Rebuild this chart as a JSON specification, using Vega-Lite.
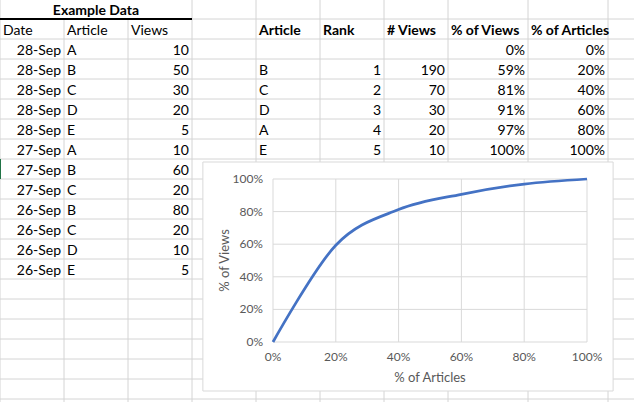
{
  "$schema": "https://vega.github.io/schema/vega-lite/v6.json",
  "width": 634,
  "height": 402,
  "autosize": "none",
  "padding": 0,
  "config": {"view": {"stroke": null}, "font": "Lato"},
  "datasets": {
    "cells": [
      {"row": 2, "col": 1, "value": "Date", "kind": "text"},
      {"row": 2, "col": 2, "value": "Article", "kind": "text"},
      {"row": 2, "col": 3, "value": "Views", "kind": "text"},
      {"row": 2, "col": 5, "value": "Article", "kind": "header"},
      {"row": 2, "col": 6, "value": "Rank", "kind": "header"},
      {"row": 2, "col": 7, "value": "# Views", "kind": "header"},
      {"row": 2, "col": 8, "value": "% of Views", "kind": "header"},
      {"row": 2, "col": 9, "value": "% of Articles", "kind": "header"},
      {"row": 3, "col": 1, "value": "28-Sep", "kind": "number"},
      {"row": 3, "col": 2, "value": "A", "kind": "text"},
      {"row": 3, "col": 3, "value": "10", "kind": "number"},
      {"row": 4, "col": 1, "value": "28-Sep", "kind": "number"},
      {"row": 4, "col": 2, "value": "B", "kind": "text"},
      {"row": 4, "col": 3, "value": "50", "kind": "number"},
      {"row": 5, "col": 1, "value": "28-Sep", "kind": "number"},
      {"row": 5, "col": 2, "value": "C", "kind": "text"},
      {"row": 5, "col": 3, "value": "30", "kind": "number"},
      {"row": 6, "col": 1, "value": "28-Sep", "kind": "number"},
      {"row": 6, "col": 2, "value": "D", "kind": "text"},
      {"row": 6, "col": 3, "value": "20", "kind": "number"},
      {"row": 7, "col": 1, "value": "28-Sep", "kind": "number"},
      {"row": 7, "col": 2, "value": "E", "kind": "text"},
      {"row": 7, "col": 3, "value": "5", "kind": "number"},
      {"row": 8, "col": 1, "value": "27-Sep", "kind": "number"},
      {"row": 8, "col": 2, "value": "A", "kind": "text"},
      {"row": 8, "col": 3, "value": "10", "kind": "number"},
      {"row": 9, "col": 1, "value": "27-Sep", "kind": "number"},
      {"row": 9, "col": 2, "value": "B", "kind": "text"},
      {"row": 9, "col": 3, "value": "60", "kind": "number"},
      {"row": 10, "col": 1, "value": "27-Sep", "kind": "number"},
      {"row": 10, "col": 2, "value": "C", "kind": "text"},
      {"row": 10, "col": 3, "value": "20", "kind": "number"},
      {"row": 11, "col": 1, "value": "26-Sep", "kind": "number"},
      {"row": 11, "col": 2, "value": "B", "kind": "text"},
      {"row": 11, "col": 3, "value": "80", "kind": "number"},
      {"row": 12, "col": 1, "value": "26-Sep", "kind": "number"},
      {"row": 12, "col": 2, "value": "C", "kind": "text"},
      {"row": 12, "col": 3, "value": "20", "kind": "number"},
      {"row": 13, "col": 1, "value": "26-Sep", "kind": "number"},
      {"row": 13, "col": 2, "value": "D", "kind": "text"},
      {"row": 13, "col": 3, "value": "10", "kind": "number"},
      {"row": 14, "col": 1, "value": "26-Sep", "kind": "number"},
      {"row": 14, "col": 2, "value": "E", "kind": "text"},
      {"row": 14, "col": 3, "value": "5", "kind": "number"},
      {"row": 3, "col": 8, "value": "0%", "kind": "number"},
      {"row": 3, "col": 9, "value": "0%", "kind": "number"},
      {"row": 4, "col": 5, "value": "B", "kind": "text"},
      {"row": 4, "col": 6, "value": "1", "kind": "number"},
      {"row": 4, "col": 7, "value": "190", "kind": "number"},
      {"row": 4, "col": 8, "value": "59%", "kind": "number"},
      {"row": 4, "col": 9, "value": "20%", "kind": "number"},
      {"row": 5, "col": 5, "value": "C", "kind": "text"},
      {"row": 5, "col": 6, "value": "2", "kind": "number"},
      {"row": 5, "col": 7, "value": "70", "kind": "number"},
      {"row": 5, "col": 8, "value": "81%", "kind": "number"},
      {"row": 5, "col": 9, "value": "40%", "kind": "number"},
      {"row": 6, "col": 5, "value": "D", "kind": "text"},
      {"row": 6, "col": 6, "value": "3", "kind": "number"},
      {"row": 6, "col": 7, "value": "30", "kind": "number"},
      {"row": 6, "col": 8, "value": "91%", "kind": "number"},
      {"row": 6, "col": 9, "value": "60%", "kind": "number"},
      {"row": 7, "col": 5, "value": "A", "kind": "text"},
      {"row": 7, "col": 6, "value": "4", "kind": "number"},
      {"row": 7, "col": 7, "value": "20", "kind": "number"},
      {"row": 7, "col": 8, "value": "97%", "kind": "number"},
      {"row": 7, "col": 9, "value": "80%", "kind": "number"},
      {"row": 8, "col": 5, "value": "E", "kind": "text"},
      {"row": 8, "col": 6, "value": "5", "kind": "number"},
      {"row": 8, "col": 7, "value": "10", "kind": "number"},
      {"row": 8, "col": 8, "value": "100%", "kind": "number"},
      {"row": 8, "col": 9, "value": "100%", "kind": "number"}
    ],
    "gridCols": [
      {"col": 0}, {"col": 1}, {"col": 2}, {"col": 3}, {"col": 4},
      {"col": 5}, {"col": 6}, {"col": 7}, {"col": 8}, {"col": 9}
    ],
    "gridRows": [
      {"row": 1}, {"row": 2}, {"row": 3}, {"row": 4}, {"row": 5},
      {"row": 6}, {"row": 7}, {"row": 8}, {"row": 9}, {"row": 10},
      {"row": 11}, {"row": 12}, {"row": 13}, {"row": 14}, {"row": 15},
      {"row": 16}, {"row": 17}, {"row": 18}, {"row": 19}, {"row": 20}
    ],
    "pareto": [
      {"articles": 0, "views": 0},
      {"articles": 0.2, "views": 0.59375},
      {"articles": 0.4, "views": 0.8125},
      {"articles": 0.6, "views": 0.90625},
      {"articles": 0.8, "views": 0.96875},
      {"articles": 1, "views": 1}
    ],
    "ticks": [
      {"v": 0}, {"v": 0.2}, {"v": 0.4}, {"v": 0.6}, {"v": 0.8}, {"v": 1}
    ],
    "one": [{}]
  },
  "layer": [
    {
      "layer": [
        {
          "data": {"name": "gridCols"},
          "transform": [{"filter": {"field": "col", "oneOf": [0, 3, 4, 5, 6, 7, 8, 9]}}],
          "mark": {"type": "rule", "stroke": "#d4d4d4", "strokeWidth": 1},
          "encoding": {
            "x": {"field": "col", "type": "quantitative", "axis": null, "scale": {"domain": [0, 7, 9, 10], "range": [0, 448, 608, 672], "zero": false, "nice": false}},
            "y": {"datum": 0, "type": "quantitative", "axis": null, "scale": {"domain": [0, 20], "range": [-1, 399], "zero": false, "nice": false}},
            "y2": {"datum": 20.3}
          }
        },
        {
          "data": {"name": "gridCols"},
          "transform": [{"filter": {"field": "col", "oneOf": [1, 2]}}],
          "mark": {"type": "rule", "stroke": "#d4d4d4", "strokeWidth": 1},
          "encoding": {
            "x": {"field": "col", "type": "quantitative", "axis": null, "scale": {"domain": [0, 7, 9, 10], "range": [0, 448, 608, 672], "zero": false, "nice": false}},
            "y": {"datum": 1, "type": "quantitative", "axis": null, "scale": {"domain": [0, 20], "range": [-1, 399], "zero": false, "nice": false}},
            "y2": {"datum": 20.3}
          }
        },
        {
          "data": {"name": "gridRows"},
          "mark": {"type": "rule", "stroke": "#d4d4d4", "strokeWidth": 1},
          "encoding": {
            "x": {"datum": 0, "type": "quantitative", "axis": null, "scale": {"domain": [0, 7, 9, 10], "range": [0, 448, 608, 672], "zero": false, "nice": false}},
            "x2": {"datum": 10},
            "y": {"field": "row", "type": "quantitative", "axis": null, "scale": {"domain": [0, 20], "range": [-1, 399], "zero": false, "nice": false}}
          }
        },
        {
          "data": {"name": "one"},
          "mark": {"type": "rule", "stroke": "#000000", "strokeWidth": 2},
          "encoding": {
            "x": {"datum": 0, "type": "quantitative", "axis": null, "scale": {"domain": [0, 7, 9, 10], "range": [0, 448, 608, 672], "zero": false, "nice": false}},
            "x2": {"datum": 3},
            "y": {"datum": 1, "type": "quantitative", "axis": null, "scale": {"domain": [0, 20], "range": [-1, 399], "zero": false, "nice": false}}
          }
        },
        {
          "data": {"name": "one"},
          "mark": {"type": "rule", "stroke": "#217346", "strokeWidth": 2},
          "encoding": {
            "x": {"datum": 0, "type": "quantitative", "axis": null, "scale": {"domain": [0, 7, 9, 10], "range": [0, 448, 608, 672], "zero": false, "nice": false}},
            "y": {"datum": 8, "type": "quantitative", "axis": null, "scale": {"domain": [0, 20], "range": [-1, 399], "zero": false, "nice": false}},
            "y2": {"datum": 9}
          }
        },
        {
          "data": {"name": "one"},
          "mark": {"type": "text", "align": "center", "baseline": "alphabetic", "dy": -4, "fontSize": 14, "fontWeight": "bold", "color": "#000000"},
          "encoding": {
            "x": {"datum": 1.5, "type": "quantitative", "axis": null, "scale": {"domain": [0, 7, 9, 10], "range": [0, 448, 608, 672], "zero": false, "nice": false}},
            "y": {"datum": 1, "type": "quantitative", "axis": null, "scale": {"domain": [0, 20], "range": [-1, 399], "zero": false, "nice": false}},
            "text": {"value": "Example Data"}
          }
        },
        {
          "data": {"name": "cells"},
          "transform": [{"filter": {"field": "kind", "equal": "number"}}],
          "mark": {"type": "text", "align": "right", "baseline": "alphabetic", "dx": -3, "dy": -4, "fontSize": 14, "color": "#000000"},
          "encoding": {
            "x": {"field": "col", "type": "quantitative", "axis": null, "scale": {"domain": [0, 7, 9, 10], "range": [0, 448, 608, 672], "zero": false, "nice": false}},
            "y": {"field": "row", "type": "quantitative", "axis": null, "scale": {"domain": [0, 20], "range": [-1, 399], "zero": false, "nice": false}},
            "text": {"field": "value"}
          }
        },
        {
          "data": {"name": "one"},
          "mark": {"type": "rect", "fill": "#ffffff", "stroke": "#d9d9d9", "strokeWidth": 1},
          "encoding": {
            "x": {"datum": 3.17, "type": "quantitative", "axis": null, "scale": {"domain": [0, 7, 9, 10], "range": [0, 448, 608, 672], "zero": false, "nice": false}},
            "x2": {"datum": 9.08},
            "y": {"datum": 8.15, "type": "quantitative", "axis": null, "scale": {"domain": [0, 20], "range": [-1, 399], "zero": false, "nice": false}},
            "y2": {"datum": 19.6}
          }
        }
      ]
    },
    {
      "data": {"name": "cells"},
      "layer": [
        {
          "transform": [{"filter": {"field": "kind", "equal": "text"}}],
          "mark": {"type": "text", "align": "left", "baseline": "alphabetic", "dx": 3, "dy": -4, "fontSize": 14, "color": "#000000"},
          "encoding": {
            "x": {"field": "col", "type": "quantitative", "axis": null, "scale": {"domain": [1, 8, 10, 11], "range": [0, 448, 608, 672], "zero": false, "nice": false}},
            "y": {"field": "row", "type": "quantitative", "axis": null, "scale": {"domain": [0, 20], "range": [-1, 399], "zero": false, "nice": false}},
            "text": {"field": "value"}
          }
        },
        {
          "transform": [{"filter": {"field": "kind", "equal": "header"}}],
          "mark": {"type": "text", "align": "left", "baseline": "alphabetic", "dx": 3, "dy": -4, "fontSize": 14, "fontWeight": "bold", "color": "#000000"},
          "encoding": {
            "x": {"field": "col", "type": "quantitative", "axis": null, "scale": {"domain": [1, 8, 10, 11], "range": [0, 448, 608, 672], "zero": false, "nice": false}},
            "y": {"field": "row", "type": "quantitative", "axis": null, "scale": {"domain": [0, 20], "range": [-1, 399], "zero": false, "nice": false}},
            "text": {"field": "value"}
          }
        }
      ]
    },
    {
      "layer": [
        {
          "data": {"name": "ticks"},
          "mark": {"type": "rule", "stroke": "#d9d9d9", "strokeWidth": 1},
          "encoding": {
            "x": {"datum": 0, "type": "quantitative", "axis": null, "scale": {"domain": [0, 1], "range": [273, 587], "zero": false, "nice": false}},
            "x2": {"datum": 1},
            "y": {"field": "v", "type": "quantitative", "axis": null, "scale": {"domain": [0, 1], "range": [342, 179], "zero": false, "nice": false}}
          }
        },
        {
          "data": {"name": "ticks"},
          "mark": {"type": "rule", "stroke": "#d9d9d9", "strokeWidth": 1},
          "encoding": {
            "x": {"field": "v", "type": "quantitative", "axis": null, "scale": {"domain": [0, 1], "range": [273, 587], "zero": false, "nice": false}},
            "y": {"datum": 0, "type": "quantitative", "axis": null, "scale": {"domain": [0, 1], "range": [342, 179], "zero": false, "nice": false}},
            "y2": {"datum": 1}
          }
        },
        {
          "data": {"name": "ticks"},
          "mark": {"type": "text", "align": "right", "baseline": "middle", "dx": -10, "fontSize": 12, "color": "#595959"},
          "encoding": {
            "x": {"datum": 0, "type": "quantitative", "axis": null, "scale": {"domain": [0, 1], "range": [273, 587], "zero": false, "nice": false}},
            "y": {"field": "v", "type": "quantitative", "axis": null, "scale": {"domain": [0, 1], "range": [342, 179], "zero": false, "nice": false}},
            "text": {"field": "v", "type": "quantitative", "format": ".0%"}
          }
        },
        {
          "data": {"name": "ticks"},
          "mark": {"type": "text", "align": "center", "baseline": "middle", "dy": 15, "fontSize": 12, "color": "#595959"},
          "encoding": {
            "x": {"field": "v", "type": "quantitative", "axis": null, "scale": {"domain": [0, 1], "range": [273, 587], "zero": false, "nice": false}},
            "y": {"datum": 0, "type": "quantitative", "axis": null, "scale": {"domain": [0, 1], "range": [342, 179], "zero": false, "nice": false}},
            "text": {"field": "v", "type": "quantitative", "format": ".0%"}
          }
        },
        {
          "data": {"name": "one"},
          "mark": {"type": "text", "align": "center", "baseline": "middle", "dy": 36, "fontSize": 13, "color": "#595959"},
          "encoding": {
            "x": {"datum": 0.5, "type": "quantitative", "axis": null, "scale": {"domain": [0, 1], "range": [273, 587], "zero": false, "nice": false}},
            "y": {"datum": 0, "type": "quantitative", "axis": null, "scale": {"domain": [0, 1], "range": [342, 179], "zero": false, "nice": false}},
            "text": {"value": "% of Articles"}
          }
        },
        {
          "data": {"name": "one"},
          "mark": {"type": "text", "align": "center", "baseline": "middle", "angle": 270, "dy": -48, "fontSize": 13, "color": "#595959"},
          "encoding": {
            "x": {"datum": 0, "type": "quantitative", "axis": null, "scale": {"domain": [0, 1], "range": [273, 587], "zero": false, "nice": false}},
            "y": {"datum": 0.5, "type": "quantitative", "axis": null, "scale": {"domain": [0, 1], "range": [342, 179], "zero": false, "nice": false}},
            "text": {"value": "% of Views"}
          }
        },
        {
          "data": {"name": "pareto"},
          "mark": {"type": "line", "interpolate": "cardinal", "stroke": "#4472c4", "strokeWidth": 2.75},
          "encoding": {
            "x": {"field": "articles", "type": "quantitative", "axis": null, "scale": {"domain": [0, 1], "range": [273, 587], "zero": false, "nice": false}},
            "y": {"field": "views", "type": "quantitative", "axis": null, "scale": {"domain": [0, 1], "range": [342, 179], "zero": false, "nice": false}}
          }
        }
      ]
    }
  ],
  "resolve": {
    "scale": {"x": "independent", "y": "independent"}
  }
}
